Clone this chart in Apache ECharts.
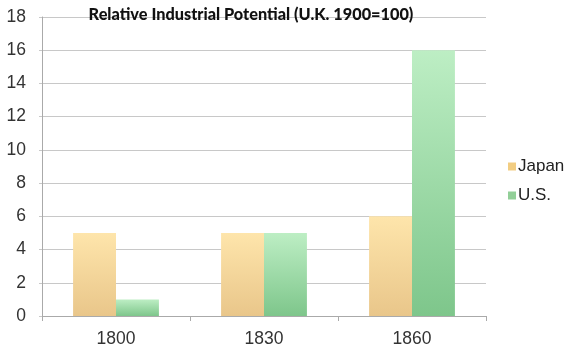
<!DOCTYPE html>
<html><head><meta charset="utf-8">
<script src="https://cdn.jsdelivr.net/npm/echarts@6/dist/echarts.min.js"></script>
<style>html,body{margin:0;padding:0;background:#fff}#c{width:582px;height:355px}</style>
</head><body><div id="c"></div>
<script>
const categories = ['1800', '1830', '1860'];
const japan = [5, 5, 6];
const us = [1, 5, 16];
const yTicks = [0, 2, 4, 6, 8, 10, 12, 14, 16, 18];

const grad = (top, bottom) => new echarts.graphic.LinearGradient(0, 0, 0, 1, [
  {offset: 0, color: top}, {offset: 1, color: bottom}]);

const chart = echarts.init(document.getElementById('c'));
chart.setOption({
  animation: false,
  title: {
    text: 'Relative Industrial Potential (U.K. 1900=100)',
    left: 246, textAlign: 'center', top: 2,
    textStyle: {fontFamily: 'Lato', fontWeight: 900, fontSize: 16.3, color: '#111'}
  },
  legend: {
    orient: 'vertical', left: 503, top: 153,
    itemWidth: 8, itemHeight: 8, itemGap: 12, icon: 'rect',
    textStyle: {fontFamily: 'Liberation Sans', fontSize: 17, color: '#222', padding: [0, 0, 0, -3]},
    data: [{name: 'Japan', itemStyle: {color: '#F2CD82'}}, {name: 'U.S.', itemStyle: {color: '#92CF98'}}]
  },
  grid: {left: 42, right: 96, top: 17, bottom: 39},
  xAxis: {
    type: 'category', data: categories,
    axisLine: {lineStyle: {color: '#aaa'}},
    axisTick: {show: true, length: 5, lineStyle: {color: '#aaa'}},
    axisLabel: {fontFamily: 'Liberation Sans', fontSize: 17.5, color: '#333', margin: 14}
  },
  yAxis: {
    type: 'value', min: yTicks[0], max: yTicks[yTicks.length - 1], interval: 2,
    axisLine: {show: true, lineStyle: {color: '#aaa'}},
    axisTick: {show: true, length: 3, lineStyle: {color: '#c8c8c8'}},
    splitLine: {lineStyle: {color: '#c8c8c8'}},
    axisLabel: {fontFamily: 'Liberation Sans', fontSize: 17.5, color: '#333', margin: 16}
  },
  series: [
    {name: 'Japan', type: 'bar', data: japan, barGap: '0%', barCategoryGap: '42%',
     itemStyle: {color: grad('#FEE5AB', '#E9C68A')}},
    {name: 'U.S.', type: 'bar', data: us,
     itemStyle: {color: grad('#BDEEC4', '#7EC68B')}}
  ]
});
</script></body></html>
